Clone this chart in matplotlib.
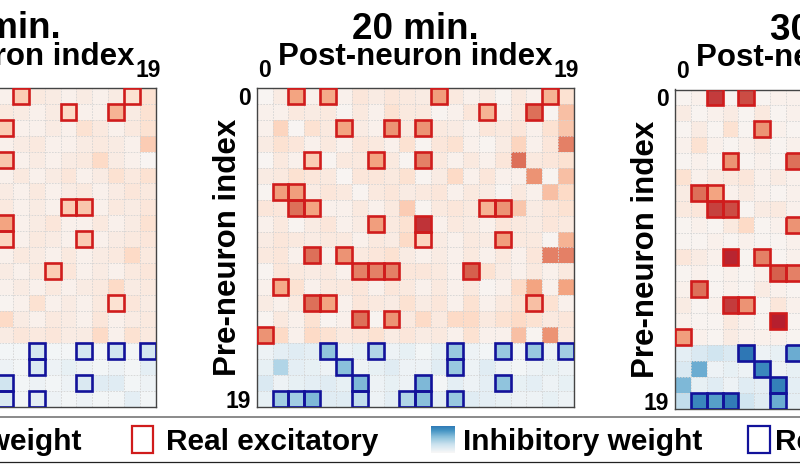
"""Learned weight maps at 10 / 20 / 30 min, real connections outlined."""
import matplotlib
matplotlib.use("Agg")
import matplotlib.pyplot as plt
from matplotlib.patches import Rectangle
import numpy as np

plt.rcParams["font.family"] = ["Liberation Sans", "DejaVu Sans"]
plt.rcParams["font.weight"] = "bold"

N = 20
N_EXC = 16

# weights x100, positive = excitatory, negative = inhibitory
# 10 min panel: only post-neuron columns 10..19 are in view
COLS_10 = list(range(10, 20))
W_10 = [
    [5, 25, 10, 8, 5, 8, 5, 8, 15, 15],
    [10, 8, 5, 8, 20, 5, 5, 35, 8, 15],
    [25, 5, 5, 8, 5, 15, 10, 5, 10, 15],
    [5, 8, 10, 5, 5, 8, 10, 8, 5, 25],
    [28, 5, 8, 5, 8, 10, 20, 8, 5, 2],
    [5, 10, 5, 8, 12, 5, 8, 15, 10, 15],
    [8, 5, 10, 5, 8, 10, 5, 8, 12, 10],
    [10, 5, 8, 5, 25, 28, 5, 10, 8, 12],
    [40, 5, 8, 12, 5, 5, 10, 5, 8, 15],
    [22, 5, 10, 8, 5, 25, 5, 8, 10, 12],
    [5, 10, 8, 5, 10, 5, 8, 10, 20, 10],
    [8, 5, 10, 25, 12, 5, 8, 5, 10, 12],
    [5, 8, 5, 10, 5, 8, 10, 20, 8, 10],
    [3, 5, 15, 5, 8, 5, 10, 15, 12, 8],
    [20, 8, 5, 10, 8, 5, 12, 5, 8, 10],
    [8, 12, 10, 12, 8, 8, 20, 5, 15, 10],
    [-3, -3, -18, -3, -2, -18, -2, -20, -2, -18],
    [-5, -3, -15, -5, -8, -5, -3, -5, -2, -10],
    [-20, -3, -5, -3, -5, -15, -12, -12, -3, -5],
    [-15, -3, -10, -5, -3, -5, -3, -3, -10, -3],
]

COLS_20 = list(range(20))
W_20 = [
    [2, 8, 40, 5, 38, 5, 12, 8, 12, 10, 8, 42, 10, 5, 8, 3, 10, 5, 35, 15],
    [5, 5, 10, 8, 10, 3, 10, 5, 15, 10, 10, 3, 5, 12, 35, 5, 10, 55, 3, 30],
    [5, 22, 2, 15, 10, 40, 8, 5, 45, 10, 45, 10, 8, 5, 12, 10, 12, 5, 15, 28],
    [8, 15, 12, 5, 10, 5, 12, 10, 5, 15, 3, 12, 15, 5, 3, 8, 22, 5, 12, 50],
    [2, 10, 5, 25, 3, 10, 10, 40, 10, 3, 50, 10, 5, 10, 5, 12, 55, 10, 12, 15],
    [8, 10, 15, 12, 10, 2, 12, 12, 10, 15, 3, 8, 20, 5, 12, 5, 5, 45, 3, 30],
    [3, 42, 42, 8, 12, 10, 3, 10, 12, 8, 10, 12, 5, 10, 8, 3, 10, 5, 30, 20],
    [12, 12, 55, 40, 5, 5, 10, 5, 10, 25, 3, 10, 12, 10, 35, 45, 28, 8, 12, 15],
    [5, 10, 3, 8, 12, 5, 8, 42, 10, 15, 72, 5, 10, 8, 5, 12, 10, 8, 12, 10],
    [8, 12, 10, 8, 10, 10, 5, 10, 8, 20, 22, 8, 5, 10, 8, 42, 10, 10, 3, 35],
    [10, 12, 5, 55, 5, 45, 10, 12, 15, 8, 5, 8, 5, 10, 5, 10, 5, 12, 50, 50],
    [3, 12, 10, 8, 10, 5, 50, 50, 50, 12, 12, 10, 5, 60, 15, 8, 5, 10, 5, 10],
    [5, 38, 15, 5, 10, 10, 12, 5, 12, 10, 5, 10, 5, 10, 3, 5, 20, 40, 5, 40],
    [8, 5, 10, 55, 40, 5, 12, 10, 8, 15, 8, 12, 5, 15, 5, 10, 15, 30, 15, 5],
    [3, 10, 5, 15, 3, 5, 55, 3, 45, 10, 20, 10, 20, 20, 10, 15, 20, 15, 10, 12],
    [45, 20, 5, 20, 15, 10, 12, 15, 8, 12, 8, 10, 5, 15, 5, 5, 30, 3, 45, 10],
    [-5, -10, -12, -10, -40, -5, -8, -30, -5, -8, -3, -8, -38, -5, -3, -38, -3, -38, -5, -35],
    [-8, -30, -10, -8, -5, -42, -5, -8, -12, -5, -5, -12, -38, -5, -12, -5, -3, -5, -8, -5],
    [-15, -5, -8, -10, -12, -8, -45, -5, -8, -5, -45, -2, -10, -5, -10, -40, -8, -10, -5, -8],
    [-8, -35, -35, -45, -12, -12, -25, -5, -10, -30, -42, -10, -38, -12, -10, -8, -5, -5, -8, -5],
]

# 30 min panel: only columns 0..7 are in view
COLS_30 = list(range(8))
W_30 = [
    [3, 5, 70, 3, 65, 3, 5, 5],
    [8, 3, 5, 8, 3, 10, 3, 5],
    [3, 8, 3, 15, 3, 45, 5, 3],
    [5, 15, 5, 3, 5, 8, 3, 5],
    [3, 5, 3, 45, 3, 5, 3, 55],
    [15, 5, 8, 10, 12, 5, 8, 5],
    [8, 55, 40, 5, 8, 5, 3, 5],
    [10, 12, 68, 65, 3, 8, 10, 5],
    [3, 5, 3, 10, 20, 3, 5, 45],
    [3, 3, 5, 3, 5, 3, 3, 5],
    [12, 8, 5, 76, 3, 50, 3, 5],
    [3, 5, 3, 5, 3, 5, 60, 50],
    [5, 55, 3, 5, 3, 8, 5, 3],
    [8, 3, 5, 70, 45, 3, 12, 5],
    [5, 3, 3, 10, 5, 3, 78, 3],
    [42, 5, 3, 8, 5, 5, 5, 3],
    [-10, -15, -20, -15, -72, -5, -8, -50],
    [-15, -50, -5, -8, -5, -65, -5, -8],
    [-45, -8, -12, -5, -12, -10, -68, -10],
    [-25, -65, -55, -70, -20, -12, -50, -10],
]

# ground-truth connections (pre, post)
REAL_EXC = [(0, 2), (0, 4), (0, 11), (0, 18), (1, 14), (1, 17),
            (2, 5), (2, 8), (2, 10), (4, 3), (4, 7), (4, 10),
            (6, 1), (6, 2), (7, 2), (7, 3), (7, 14), (7, 15),
            (8, 7), (8, 10), (9, 10), (9, 15), (10, 3), (10, 5),
            (11, 6), (11, 7), (11, 8), (11, 13), (12, 1),
            (13, 3), (13, 4), (13, 17), (14, 6), (14, 8), (15, 0)]
REAL_INH = [(16, 4), (16, 7), (16, 12), (16, 15), (16, 17), (16, 19),
            (17, 5), (17, 12), (18, 6), (18, 10), (18, 15),
            (19, 1), (19, 2), (19, 3), (19, 6), (19, 9), (19, 10), (19, 12)]

PANELS = [("10 min.", COLS_10, W_10), ("20 min.", COLS_20, W_20),
          ("30 min.", COLS_30, W_30)]

EXC_EDGE = "#d01c1c"
INH_EDGE = "#12129a"
CMAP = "RdBu_r"

W, H = 800, 475
fig = plt.figure(figsize=(8, 4.75), dpi=100)

# axes boxes in pixels (left, top, width, height)
AX_PX = [(-161.6, 87.8, 317.3, 318.9), (256.7, 88.3, 317.3, 318.4),
         (675.0, 89.5, 317.3, 319.0)]


def draw_panel(ax, title, cols, w):
    w = np.array(w, dtype=float) / 100.0
    xe = np.arange(cols[0] - 0.5, cols[-1] + 1.0, 1.0)
    ye = np.arange(-0.5, N, 1.0)
    ax.pcolormesh(xe, ye, w, cmap=CMAP, vmin=-1, vmax=1)
    ax.set_xlim(-0.5, N - 0.5)
    ax.set_ylim(N - 0.5, -0.5)
    ax.set_xticks(np.arange(-0.5, N, 1.0), minor=True)
    ax.set_yticks(np.arange(-0.5, N, 1.0), minor=True)
    ax.grid(which="minor", color="#d4d4d4", lw=0.6, ls=(0, (2, 1.5)))
    ax.tick_params(which="minor", length=0)
    for (r, c) in REAL_EXC:
        ax.add_patch(Rectangle((c - 0.5, r - 0.5), 1, 1, fill=False,
                               ec=EXC_EDGE, lw=1.9, zorder=3))
    for (r, c) in REAL_INH:
        ax.add_patch(Rectangle((c - 0.5, r - 0.5), 1, 1, fill=False,
                               ec=INH_EDGE, lw=1.9, zorder=3))
    ax.xaxis.tick_top()
    ax.set_xticks([0, N - 1])
    ax.set_xticklabels(["0", "19"], fontsize=16.5, fontweight="bold")
    ax.set_yticks([0, N - 1])
    ax.set_yticklabels(["0", "19"], fontsize=16.5, fontweight="bold")
    ax.tick_params(which="major", length=0, pad=4.5)
    for s in ax.spines.values():
        s.set_color("#444444")
        s.set_linewidth(1.0)
    ax.text(0.5, 1.155, title, transform=ax.transAxes, ha="center",
            va="baseline", fontsize=26.5, fontweight="bold")
    ax.text(0.5, 1.073, "Post-neuron index", transform=ax.transAxes,
            ha="center", va="baseline", fontsize=22.5, fontweight="bold")
    ax.text(-0.09, 0.5, "Pre-neuron index", transform=ax.transAxes,
            ha="center", va="center", rotation=90, fontsize=22.5,
            fontweight="bold")


for (title, cols, w), (l, t, aw, ah) in zip(PANELS, AX_PX):
    ax = fig.add_axes([l / W, 1 - (t + ah) / H, aw / W, ah / H])
    draw_panel(ax, title, cols, w)

# legend strip, in pixel coordinates
lg = fig.add_axes([0, 0, 1, 1], zorder=5)
lg.axis("off")
lg.axhline(416.5, color="#8a8a8a", lw=1.4)
lg.axhline(462.0, color="#222222", lw=0.9)

grad = np.linspace(0, 1, 32).reshape(-1, 1)
lg.imshow(0.7 * (1 - grad), cmap=CMAP, vmin=-1, vmax=1,
          extent=(-190, -167, 453, 426), aspect="auto")
lg.text(82, 450, "Excitatory weight", ha="right", va="baseline", fontsize=21.5)
lg.add_patch(Rectangle((132, 426), 21, 27, fill=False, ec=EXC_EDGE, lw=1.6))
lg.text(166, 450, "Real excitatory", ha="left", va="baseline", fontsize=21.5)
lg.imshow(-0.7 * (1 - grad), cmap=CMAP, vmin=-1, vmax=1,
          extent=(431, 455, 453, 426), aspect="auto")
lg.text(463, 450, "Inhibitory weight", ha="left", va="baseline", fontsize=21.5)
lg.add_patch(Rectangle((748, 426), 22, 27, fill=False, ec=INH_EDGE, lw=1.6))
lg.text(775, 450, "Real inhibitory", ha="left", va="baseline", fontsize=21.5)
lg.set_xlim(0, W)
lg.set_ylim(H, 0)

fig.savefig("out.png", dpi=100)
